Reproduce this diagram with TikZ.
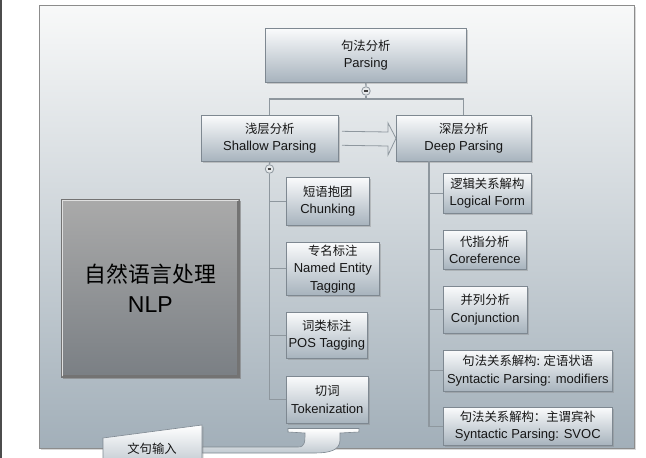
\documentclass[tikz,border=0pt]{standalone}
\usepackage{fontspec}
\setmainfont{Liberation Sans}
\newfontfamily\cjk[Scale=0.95]{Noto Sans CJK SC}
\usetikzlibrary{shadows}
\definecolor{boxtop}{HTML}{FAFBFC}
\definecolor{boxbot}{HTML}{A7B3BD}
\definecolor{boxline}{HTML}{7E8891}
\definecolor{paneltop}{HTML}{F8F9F9}
\definecolor{panelbot}{HTML}{A2AFB9}
\definecolor{conn}{HTML}{8E979E}
\definecolor{nlptop}{HTML}{AAAAAA}
\definecolor{nlpbot}{HTML}{7A7F84}
\definecolor{txt}{HTML}{161616}
\definecolor{circfill}{HTML}{E6E9EB}
\tikzset{
  pbox/.style={draw=boxline, line width=0.6pt, top color=boxtop, bottom color=boxbot,
    anchor=north west, align=center, inner sep=0pt, text=txt,
    font=\fontsize{13}{17.5}\selectfont,
    drop shadow={opacity=0.35, shadow xshift=1.5pt, shadow yshift=-1.5pt}},
  link/.style={draw=conn, line width=1.3pt},
  collapse/.style={circle, draw=conn, line width=0.8pt, fill=circfill, minimum size=8.5pt, inner sep=0pt,
    path picture={\draw[black!75, line width=1.2pt]
      ([xshift=-1.8pt]path picture bounding box.center) -- ([xshift=1.8pt]path picture bounding box.center);}},
  hollow/.style={draw=conn, line width=0.8pt},
}
\begin{document}
\begin{tikzpicture}[x=1pt, y=-1pt]
\useasboundingbox (0,0) rectangle (646,458);
\fill[white] (0,0) rectangle (646,458);
% left edge line
\draw[black!70, line width=1.5pt] (0.75,0) -- (0.75,458);
% panel
\path[draw=black!45, line width=0.6pt, top color=paneltop, bottom color=panelbot,
  drop shadow={opacity=0.3, shadow xshift=1.5pt, shadow yshift=-1.5pt}] (39,5) rectangle (634,448);

% nodes
\node[pbox, minimum width=201pt, minimum height=54pt] (parsing) at (265,28) {{\cjk 句法分析}\\Parsing};
\node[pbox, minimum width=137pt, minimum height=46pt] (shallow) at (201,115) {{\cjk 浅层分析}\\Shallow Parsing};
\node[pbox, minimum width=135pt, minimum height=46pt] (deep) at (396,115) {{\cjk 深层分析}\\Deep Parsing};

\node[pbox, minimum width=83pt, minimum height=48pt] (chunk) at (286,177) {{\cjk 短语抱团}\\Chunking};
\node[pbox, minimum width=93pt, minimum height=53pt] (ner) at (286,242) {{\cjk 专名标注}\\Named Entity\\Tagging};
\node[pbox, minimum width=81pt, minimum height=46pt] (pos) at (286,312) {{\cjk 词类标注}\\POS Tagging};
\node[pbox, minimum width=82pt, minimum height=47pt] (tok) at (286,376) {{\cjk 切词}\\Tokenization};

\node[pbox, minimum width=88pt, minimum height=40pt] (logic) at (443,173) {{\cjk 逻辑关系解构}\\Logical Form};
\node[pbox, minimum width=83pt, minimum height=39pt] (coref) at (443,230) {{\cjk 代指分析}\\Coreference};
\node[pbox, minimum width=84pt, minimum height=47pt] (conj) at (443,286) {{\cjk 并列分析}\\Conjunction};
\node[pbox, minimum width=169pt, minimum height=41pt] (mod) at (443,350) {{\cjk 句法关系解构: 定语状语}\\Syntactic Parsing: modifiers};
\node[pbox, minimum width=169pt, minimum height=38pt] (svoc) at (443,407) {{\cjk 句法关系解构：主谓宾补}\\Syntactic Parsing: SVOC};

% NLP box
\node[pbox, draw=black!55, top color=nlptop, bottom color=nlpbot, minimum width=178pt, minimum height=178pt,
  font=\fontsize{23}{30}\selectfont, text=black,
  drop shadow={opacity=0.45, shadow xshift=2pt, shadow yshift=-2pt}] (nlp) at (61,199) {{\cjk 自然语言处理}\\NLP};
\draw[white!75!gray, line width=1.5pt] ([xshift=1.5pt,yshift=1.5pt]nlp.south west) |- ([xshift=-1.5pt,yshift=-1.5pt]nlp.north east);
\draw[black!55, line width=1.5pt] ([xshift=1.5pt,yshift=1.5pt]nlp.south west) -| ([xshift=-1.5pt,yshift=-1.5pt]nlp.north east);

% top connectors
\node[collapse] (c1) at (366,91) {};
\coordinate (h1) at (366,99);
\draw[link] (parsing.south) -- (c1.north);
\draw[link] (c1.south) -- (h1);
\draw[link] (h1) -| (shallow.north);
\draw[link] (h1) -| (deep.north);

% shallow branch
\node[collapse] (c2) at (269.5,169) {};
\draw[link] (shallow.south) -- (c2.north);
\draw[link] (c2.south) |- (chunk.west);
\draw[link] (c2.south) |- (ner.west);
\draw[link] (c2.south) |- (pos.west);
\draw[link] (c2.south) |- (tok.west);

% deep branch
\coordinate (d0) at (429,161);
\draw[link] (d0) |- (logic.west);
\draw[link] (d0) |- (coref.west);
\draw[link] (d0) |- (conj.west);
\draw[link] (d0) |- (mod.west);
\draw[link] (d0) |- (svoc.west);

% hollow arrow shallow -> deep
\coordinate (a0) at (342,139);
\draw[hollow] ([yshift=7pt]shallow.east -| a0) -- (388,132) -- (388,123) -- (deep.west) -- (388,155) -- (388,146) -- ([yshift=-7pt]shallow.east -| a0);

% input shape and pipe
\path[draw=boxline, line width=0.6pt, top color=white, bottom color=boxbot!70!white]
  (202,447) -- (298,447) .. controls (305,447) and (305,442) .. (305,433)
  -- (288,432) -- (288,428.5) -- (359,428.5) -- (359,432) -- (340,433)
  -- (340,440) .. controls (340,450) and (330,453) .. (315,453) -- (202,453) -- cycle;
\path[draw=boxline, line width=0.6pt, top color=white, bottom color=boxbot!60!white,
  drop shadow={opacity=0.3, shadow xshift=1.5pt, shadow yshift=-1.5pt}]
  (103,438) -- (202,425) -- (202,459) -- (103,459) -- cycle;
\node[text=txt, font=\fontsize{13}{15}\selectfont\cjk] (input) at (152,449) {文句输入};
\end{tikzpicture}
\end{document}
